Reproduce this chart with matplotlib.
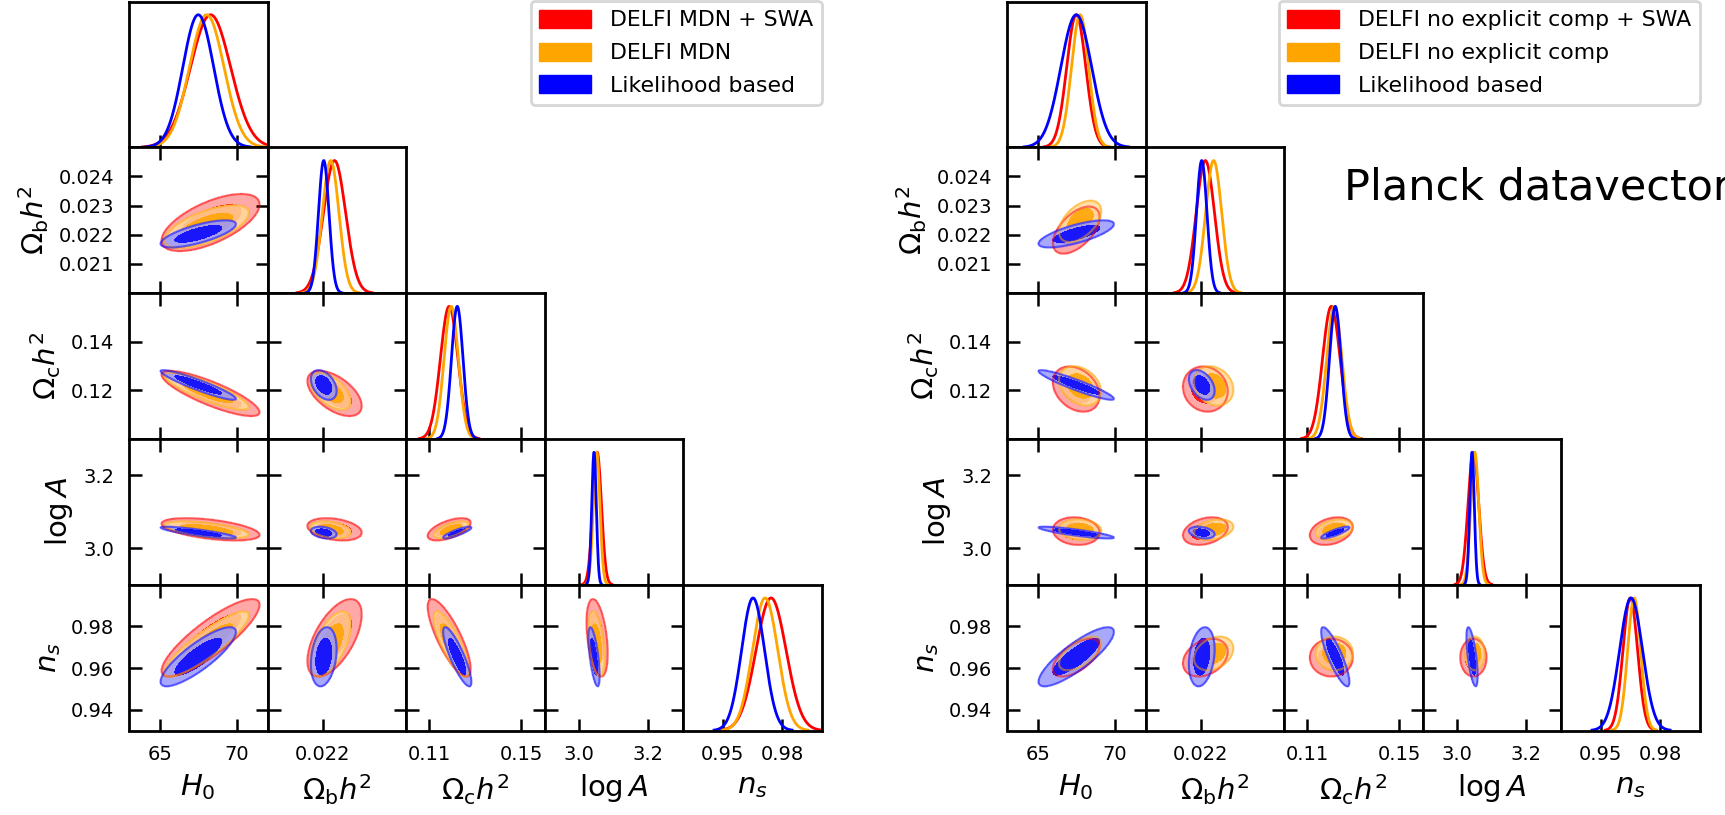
import numpy as np
import matplotlib
matplotlib.use("Agg")
import matplotlib.pyplot as plt
from matplotlib.patches import Patch
from matplotlib.colors import to_rgb
from itertools import combinations

# ---------------- data ----------------
param_labels = [r'$H_0$', r'$\Omega_{\rm b}h^2$', r'$\Omega_{\rm c}h^2$', r'$\log A$', r'$n_s$']
param_limits = [(63.0, 72.0), (0.020, 0.025), (0.10, 0.16), (2.9, 3.3), (0.93, 1.0)]
x_ticks = [[65, 70], [0.022], [0.11, 0.15], [3.0, 3.2], [0.95, 0.98]]
x_ticklabels = [['65', '70'], ['0.022'], ['0.11', '0.15'], ['3.0', '3.2'], ['0.95', '0.98']]
y_ticks = [[], [0.021, 0.022, 0.023, 0.024], [0.12, 0.14], [3.0, 3.2], [0.94, 0.96, 0.98]]
y_ticklabels = [[], ['0.021', '0.022', '0.023', '0.024'], ['0.12', '0.14'], ['3.0', '3.2'],
                ['0.94', '0.96', '0.98']]

# correlation order: H0-Ob, H0-Oc, H0-logA, H0-ns, Ob-Oc, Ob-logA, Ob-ns, Oc-logA, Oc-ns, logA-ns
# Likelihood based (shared by both panels)
like_mean = [67.5, 0.02203, 0.1222, 3.043, 0.9654]
like_sigma = [1.00, 0.00019, 0.0025, 0.0066, 0.0058]
like_corr = [0.72, -0.93, -0.85, 0.84, -0.40, -0.30, 0.25, 0.85, -0.85, -0.65]

# Left: DELFI MDN + SWA
mdn_swa_mean = [68.3, 0.02242, 0.1187, 3.052, 0.9745]
mdn_swa_sigma = [1.30, 0.00040, 0.0038, 0.0125, 0.0076]
mdn_swa_corr = [0.63, -0.83, -0.50, 0.85, -0.55, -0.30, 0.60, 0.58, -0.80, -0.40]

# Left: DELFI MDN
mdn_mean = [68.05, 0.02228, 0.1196, 3.0505, 0.9715]
mdn_sigma = [1.12, 0.00030, 0.0031, 0.0095, 0.0064]
mdn_corr = [0.64, -0.85, -0.55, 0.88, -0.55, -0.30, 0.60, 0.60, -0.80, -0.40]

# Right: DELFI no explicit comp + SWA
noexp_swa_mean = [67.50, 0.02216, 0.1205, 3.047, 0.9650]
noexp_swa_sigma = [0.62, 0.00033, 0.0038, 0.0155, 0.0037]
noexp_swa_corr = [0.55, -0.30, -0.10, 0.60, -0.10, 0.30, 0.30, 0.30, 0.0, 0.0]

# Right: DELFI no explicit comp
noexp_mean = [67.75, 0.02246, 0.1218, 3.051, 0.9670]
noexp_sigma = [0.56, 0.00029, 0.0033, 0.0115, 0.0033]
noexp_corr = [0.50, -0.30, -0.10, 0.60, -0.20, 0.30, 0.30, 0.30, 0.0, 0.0]

left_labels = ['DELFI MDN + SWA', 'DELFI MDN', 'Likelihood based']
right_labels = ['DELFI no explicit comp + SWA', 'DELFI no explicit comp', 'Likelihood based']
series_colors = ['red', 'orange', 'blue']

# ---------------- plotting ----------------
W, H = 1725, 815
fig = plt.figure(figsize=(W / 100, H / 100), dpi=100)

CW, RH = 138.5, 145.8
TOP = 1.5


def px_axes(x, y, w, h):
    return fig.add_axes([x / W, 1 - (y + h) / H, w / W, h / H])


def tint(col, f):
    c = np.array(to_rgb(col))
    return tuple(1 - f * (1 - c))


def draw_corner(x0, series):
    pairs = list(combinations(range(5), 2))
    for i in range(5):
        for j in range(i + 1):
            ax = px_axes(x0 + j * CW, TOP + i * RH, CW, RH)
            ax.set_xlim(param_limits[j])
            for sp in ax.spines.values():
                sp.set_linewidth(2.0)
                sp.set_zorder(5)
            if i == j:
                xs = np.linspace(*param_limits[j], 500)
                for mean, sig, corr, col in series:
                    ys = np.exp(-0.5 * ((xs - mean[j]) / sig[j]) ** 2)
                    ys[ys < 0.003] = np.nan
                    ax.plot(xs, ys, color=col, lw=2.0)
                ax.set_ylim(0, 1.1)
                ax.set_yticks([])
                ax.tick_params(axis='x', direction='in', length=9, width=1.8,
                               top=False, bottom=True, labelsize=14, pad=10.5)
            else:
                ax.set_ylim(param_limits[i])
                k = pairs.index((j, i))
                gx = np.linspace(*param_limits[j], 300)
                gy = np.linspace(*param_limits[i], 300)
                X, Y = np.meshgrid(gx, gy)
                for mean, sig, corr, col in series:
                    rho = corr[k]
                    dx = (X - mean[j]) / sig[j]
                    dy = (Y - mean[i]) / sig[i]
                    chi2 = (dx ** 2 - 2 * rho * dx * dy + dy ** 2) / (1 - rho ** 2)
                    ax.contourf(X, Y, chi2, levels=[0, 5.991], colors=[tint(col, 0.4)], alpha=0.85)
                    ax.contourf(X, Y, chi2, levels=[0, 2.296], colors=[col], alpha=0.85)
                    ax.contour(X, Y, chi2, levels=[5.991], colors=[col], linewidths=1.6, alpha=0.5)
                ax.set_yticks(y_ticks[i])
                ax.tick_params(axis='both', direction='in', length=9, width=1.8,
                               top=True, bottom=True, left=True, right=True,
                               labelsize=14, pad=10.5)
            ax.set_xticks(x_ticks[j])
            if i == 4:
                ax.set_xticklabels(x_ticklabels[j])
                ax.set_xlabel(param_labels[j], fontsize=21, labelpad=6)
            else:
                ax.tick_params(labelbottom=False)
            if j == 0 and i > 0:
                ax.set_yticklabels(y_ticklabels[i])
                ax.set_ylabel(param_labels[i], fontsize=21, labelpad=6)
            elif i != j:
                ax.tick_params(labelleft=False)


left_series = [(mdn_swa_mean, mdn_swa_sigma, mdn_swa_corr, 'red'),
               (mdn_mean, mdn_sigma, mdn_corr, 'orange'),
               (like_mean, like_sigma, like_corr, 'blue')]
right_series = [(noexp_swa_mean, noexp_swa_sigma, noexp_swa_corr, 'red'),
                (noexp_mean, noexp_sigma, noexp_corr, 'orange'),
                (like_mean, like_sigma, like_corr, 'blue')]

LX0, RX0 = 129, 1007
draw_corner(LX0, left_series)
draw_corner(RX0, right_series)


def add_legend(labels, right_px):
    handles = [Patch(facecolor=c, edgecolor=c) for c in series_colors]
    leg = fig.legend(handles, labels, loc='upper right',
                     bbox_to_anchor=(right_px / W, 1 - 1 / H), fontsize=15.8,
                     handlelength=2.35, handleheight=0.9, handletextpad=0.85,
                     labelspacing=0.55, borderaxespad=0, borderpad=0.4)
    leg.get_frame().set_linewidth(2.0)
    return leg


add_legend(left_labels, LX0 + 5 * CW)
add_legend(right_labels, RX0 + 5 * CW)

fig.text(1344 / W, 1 - 200 / H, 'Planck datavector', fontsize=31, ha='left', va='baseline')

fig.savefig('out.png', dpi=100)
